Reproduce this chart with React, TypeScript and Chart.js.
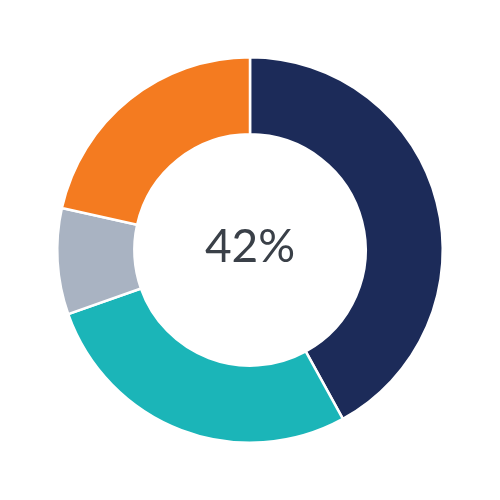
import React, { useEffect, useRef } from "react";
import { Chart } from "chart.js/auto";

const labels = ["Navy", "Teal", "Gray", "Orange"];
const values = [42, 27.6, 8.9, 21.5];
const colors = ["#1c2b59", "#1bb5b8", "#a9b3c2", "#f47b20"];
const centerLabel = "42%";

const centerText = {
  id: "centerText",
  afterDraw(chart: any) {
    const { ctx, chartArea } = chart;
    const x = (chartArea.left + chartArea.right) / 2;
    const y = (chartArea.top + chartArea.bottom) / 2;
    ctx.save();
    ctx.font = "400 46px Lato, 'Open Sans', sans-serif";
    ctx.fillStyle = "#3a4048";
    ctx.textAlign = "center";
    ctx.textBaseline = "middle";
    ctx.fillText(centerLabel, x, y - 3);
    ctx.restore();
  },
};

const App: React.FC = () => {
  const chartRef = useRef<HTMLCanvasElement | null>(null);

  useEffect(() => {
    if (!chartRef.current) return;
    const chart = new Chart(chartRef.current, {
      type: "doughnut",
      data: {
        labels,
        datasets: [
          {
            data: values,
            backgroundColor: colors,
            borderColor: "#ffffff",
            borderWidth: 2.5,
          },
        ],
      },
      options: {
        responsive: true,
        maintainAspectRatio: false,
        animation: false,
        cutout: "60%",
        layout: { padding: 56 },
        plugins: {
          legend: { display: false },
          tooltip: { enabled: false },
        },
      },
      plugins: [centerText],
    });
    return () => {
      chart.destroy();
    };
  }, []);

  return (
    <div style={{ width: 500, height: 500, margin: -8, position: "relative" }}>
      <canvas ref={chartRef} />
    </div>
  );
};

export default App;
